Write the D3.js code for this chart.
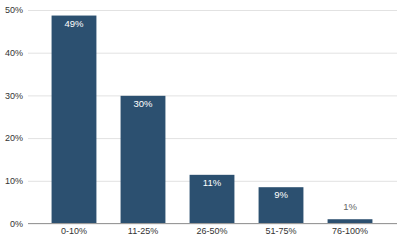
<!DOCTYPE html>
<html>
<head>
<meta charset="utf-8">
<script src="https://cdn.jsdelivr.net/npm/d3@7"></script>
<style>
  body { margin: 0; background: #fff; }
  svg { display: block; font-family: "Liberation Sans", Arial, sans-serif; }
</style>
</head>
<body>
<script>
// ranges and share of respondents (percent)
const categories = ["0-10%", "11-25%", "26-50%", "51-75%", "76-100%"];
const values = [48.7, 29.9, 11.4, 8.5, 1.0];
const valueLabels = ["49%", "30%", "11%", "9%", "1%"];
const yTicks = [0, 10, 20, 30, 40, 50];

const width = 404, height = 242;
const svg = d3.select("body").append("svg")
    .attr("width", width)
    .attr("height", height);

/* scales */
const x = d3.scaleBand()
    .domain(categories)
    .range([27, 397])
    .paddingInner(0.35)
    .paddingOuter(0.356);

const y = d3.scaleLinear()
    .domain([0, 50])
    .range([223.5, 10]);

/* gridlines + y labels */
const yAxis = d3.axisLeft(y)
    .tickValues(yTicks)
    .tickFormat(d => d + "%")
    .tickSize(-(397 - 28))
    .tickPadding(5);

svg.append("g")
    .attr("transform", "translate(28,0)")
    .call(yAxis)
    .call(g => g.select(".domain").remove())
    .call(g => g.selectAll(".tick line").attr("stroke", "#e2e2e2"))
    .call(g => g.selectAll(".tick text")
        .attr("fill", "#333")
        .attr("font-size", 9));

/* bars */
svg.selectAll("rect.bar")
    .data(values)
    .enter()
    .append("rect")
    .attr("class", "bar")
    .attr("x", (d, i) => x(categories[i]))
    .attr("y", d => y(d))
    .attr("width", x.bandwidth())
    .attr("height", d => y(0) - y(d))
    .attr("fill", "#2c5070");

/* value labels: inside bar when tall enough, otherwise above it */
svg.selectAll("text.val")
    .data(values)
    .enter()
    .append("text")
    .attr("class", "val")
    .attr("x", (d, i) => x(categories[i]) + x.bandwidth() / 2)
    .attr("y", d => d > 3 ? y(d) + 11 : y(d) - 9)
    .attr("text-anchor", "middle")
    .attr("font-size", 9.5)
    .attr("fill", d => d > 3 ? "#ffffff" : "#666")
    .text((d, i) => valueLabels[i]);

/* x axis */
const xAxis = d3.axisBottom(x).tickSize(0).tickPadding(4);
svg.append("g")
    .attr("transform", "translate(0," + y(0) + ")")
    .call(xAxis)
    .call(g => g.select(".domain").attr("d", "M28,0H397").attr("stroke", "#999"))
    .call(g => g.selectAll(".tick text")
        .attr("fill", "#333")
        .attr("font-size", 9));
</script>
</body>
</html>
